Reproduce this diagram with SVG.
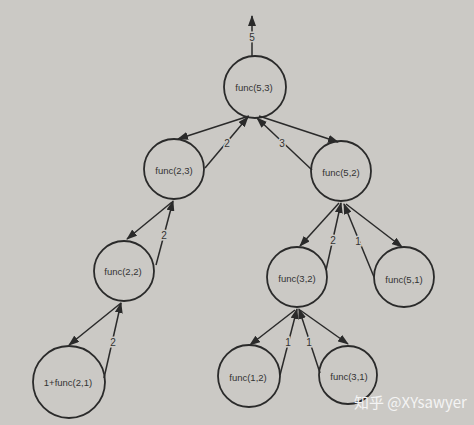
<svg xmlns="http://www.w3.org/2000/svg" width="474" height="425" viewBox="0 0 474 425">
<defs>
<marker id="ah" markerWidth="11" markerHeight="8" refX="10" refY="4" orient="auto" markerUnits="userSpaceOnUse">
<path d="M0,0 L11,4 L0,8 Z" fill="#2a2a2a"/>
</marker>
<style>
.n{fill:none;stroke:#2a2a2a;stroke-width:1.8}
.t{font-family:"Liberation Sans",Arial,sans-serif;font-size:9.5px;fill:#333;text-anchor:middle;dominant-baseline:central}
.e{stroke:#2a2a2a;stroke-width:1.5;fill:none;marker-end:url(#ah)}
.l{font-family:"Liberation Sans",Arial,sans-serif;font-size:10px;fill:#333;text-anchor:middle;dominant-baseline:central;stroke:#cbc9c5;stroke-width:3;paint-order:stroke}
.w{font-family:"Noto Sans CJK SC","Liberation Sans",sans-serif;font-size:15px;fill:#f4f4f4}
</style>
</defs>
<rect width="474" height="425" fill="#cbc9c5"/>
<g id="connectors">
<line class="e" x1="252" y1="56" x2="252" y2="16"/>
<line class="e" x1="249" y1="116" x2="178" y2="139"/>
<line class="e" x1="205" y1="168" x2="248" y2="117"/>
<line class="e" x1="259" y1="116" x2="338" y2="142"/>
<line class="e" x1="312" y1="170" x2="257" y2="118"/>
<line class="e" x1="172" y1="202" x2="127" y2="239"/>
<line class="e" x1="156" y1="265" x2="173" y2="201"/>
<line class="e" x1="339" y1="203" x2="300" y2="246"/>
<line class="e" x1="326" y1="270" x2="341" y2="203"/>
<line class="e" x1="346" y1="204" x2="402" y2="247"/>
<line class="e" x1="374" y1="277" x2="344" y2="204"/>
<line class="e" x1="121" y1="303" x2="69" y2="345"/>
<line class="e" x1="104" y1="378" x2="121" y2="303"/>
<line class="e" x1="295" y1="310" x2="250" y2="345"/>
<line class="e" x1="280" y1="375" x2="297" y2="309"/>
<line class="e" x1="300" y1="310" x2="348" y2="344"/>
<line class="e" x1="320" y1="373" x2="299" y2="309"/>
<text class="l" x="252" y="37">5</text>
<text class="l" x="227" y="143">2</text>
<text class="l" x="282" y="143">3</text>
<text class="l" x="164" y="235">2</text>
<text class="l" x="333" y="240">2</text>
<text class="l" x="358" y="241">1</text>
<text class="l" x="113" y="342">2</text>
<text class="l" x="288" y="342">1</text>
<text class="l" x="309" y="342">1</text>
</g>
<g id="n53"><circle class="n" cx="255" cy="87" r="31"/><text class="t" x="254" y="87">func(5,3)</text></g>
<g id="n23"><circle class="n" cx="174" cy="169" r="30"/><text class="t" x="174" y="170">func(2,3)</text></g>
<g id="n52"><circle class="n" cx="341" cy="171" r="30"/><text class="t" x="341" y="172">func(5,2)</text></g>
<g id="n22"><circle class="n" cx="124" cy="271" r="30"/><text class="t" x="123" y="271">func(2,2)</text></g>
<g id="n32"><circle class="n" cx="297" cy="277" r="30"/><text class="t" x="297" y="278">func(3,2)</text></g>
<g id="n51"><circle class="n" cx="404" cy="277" r="30"/><text class="t" x="404" y="279">func(5,1)</text></g>
<g id="n21"><circle class="n" cx="69" cy="382" r="36"/><text class="t" x="68" y="382">1+func(2,1)</text></g>
<g id="n12"><circle class="n" cx="249" cy="376" r="31"/><text class="t" x="248" y="377">func(1,2)</text></g>
<g id="n31"><circle class="n" cx="348" cy="375" r="29"/><text class="t" x="349" y="376">func(3,1)</text></g>
<text class="w" x="354" y="408">知乎 @XYsawyer</text>
</svg>
